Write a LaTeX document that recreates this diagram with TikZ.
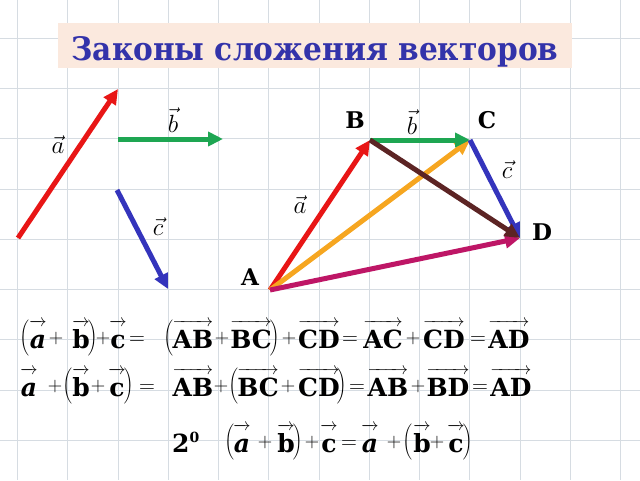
\documentclass[tikz,border=0pt]{standalone}
\usepackage{amsmath}
\usepackage{graphicx}
\usepackage{fontspec}
\usetikzlibrary{arrows.meta}
\newfontfamily\eqf{DejaVu Serif}
\definecolor{gridc}{RGB}{214,220,226}
\definecolor{titlebg}{RGB}{251,233,222}
\definecolor{titlefg}{RGB}{51,51,170}
\definecolor{vred}{RGB}{232,22,22}
\definecolor{vgreen}{RGB}{30,166,82}
\definecolor{vblue}{RGB}{52,52,188}
\definecolor{vorange}{RGB}{246,166,32}
\definecolor{vbrown}{RGB}{92,36,36}
\definecolor{vmag}{RGB}{190,22,102}
\newcommand\vv[1]{\mbox{\fontsize{17.28}{20}\selectfont$\overrightarrow{\mbox{\fontsize{25}{30}\selectfont#1\vrule height 21.5pt width 0pt}}$}}
\newcommand\va{\vv{\itshape a}}
\newcommand\lp{\raisebox{7pt}{\normalfont\fontsize{12}{14}\selectfont$\left(\vrule height 21.5pt depth 15.5pt width 0pt\right.$}}
\newcommand\rp{\raisebox{7pt}{\normalfont\fontsize{12}{14}\selectfont$\left.\vrule height 21.5pt depth 15.5pt width 0pt\right)$}}
\newcommand\pl{\raisebox{4.5pt}{\normalfont\fontsize{20}{22}\selectfont +}}
\newcommand\eqs{\raisebox{4pt}{\normalfont\fontsize{22}{24}\selectfont =}}
\begin{document}
\begin{tikzpicture}[x=1pt,y=-1pt,
  vec/.style={line width=5pt,-{Triangle[length=15pt,width=14pt]}},
  tok/.style={anchor=base,inner sep=0pt,font=\eqf\bfseries\fontsize{25}{30}\selectfont},
  ptlbl/.style={font=\eqf\bfseries\fontsize{23}{27}\selectfont,inner sep=0pt},
  veclbl/.style={font=\fontsize{24.88}{30}\selectfont,inner sep=0pt},
  gridline/.style={draw=gridc,line width=0.8pt}]
\useasboundingbox (0,0) rectangle (640,480);
\fill[white] (0,0) rectangle (640,480);
\foreach \i in {0,...,12} \draw[gridline] (17.5+50.25*\i,0) -- (17.5+50.25*\i,480);
\foreach \j in {0,...,8} \draw[gridline] (0,38+50.3*\j) -- (640,38+50.3*\j);
% title
\node[fill=titlebg,anchor=base,inner sep=0pt,minimum width=514pt,text height=37pt,text depth=8pt,text=titlefg,font=\eqf\bfseries] (title) at (315,60) {\resizebox{487pt}{24pt}{Законы сложения векторов}};
% free vectors
\coordinate (a1) at (18,238); \coordinate (a2) at (118,89);
\coordinate (b1) at (118,139); \coordinate (b2) at (223,139);
\coordinate (c1) at (117,190); \coordinate (c2) at (168,289);
\draw[vec,vred] (a1) -- (a2);
\draw[vec,vgreen] (b1) -- (b2);
\draw[vec,vblue] (c1) -- (c2);
% polygon
\coordinate (A) at (270,290); \coordinate (B) at (370,140);
\coordinate (C) at (470,140); \coordinate (D) at (520,238);
\draw[vec,vred] (A) -- (B);
\draw[vec,vorange] (A) -- (C);
\draw[vec,vmag] (A) -- (D);
\draw[vec,vgreen] (B) -- (C);
\draw[vec,vblue] (C) -- (D);
\draw[vec,vbrown] (B) -- (D);
% point labels
\node[ptlbl] (lA) at (250,277) {A};
\node[ptlbl] (lB) at (355,120) {B};
\node[ptlbl] (lC) at (487,120) {C};
\node[ptlbl] (lD) at (542,232) {D};
% vector labels
\node[veclbl] (la1) at (58,145) {$\vec a$};
\node[veclbl] (lb1) at (173,120) {$\vec b$};
\node[veclbl] (lc1) at (158,227) {$\vec c$};
\node[veclbl] (la2) at (300,205) {$\vec a$};
\node[veclbl] (lb2) at (412,122) {$\vec b$};
\node[veclbl] (lc2) at (507,170) {$\vec c$};
% equations
\foreach \x/\t [count=\i] in {25/\lp, 38/\va, 56/\pl, 81/\vv{b}, 92/\rp, 103/\pl, 118/\vv{c}, 137/\eqs, 169/\lp, 193/\vv{AB}, 222/\pl, 251/\vv{BC}, 274/\rp, 289/\pl, 319/\vv{CD}, 350/\eqs, 383/\vv{AC}, 413/\pl, 444/\vv{CD}, 478/\eqs, 509/\vv{AD}}
  \node[tok] (ra-\i) at (\x,348) {\t};
\foreach \x/\t [count=\i] in {29/\va, 55/\pl, 68/\lp, 81/\vv{b}, 98/\pl, 117/\vv{c}, 128/\rp, 147/\eqs, 193/\vv{AB}, 221/\pl, 234/\lp, 258/\vv{BC}, 288/\pl, 319/\vv{CD}, 341/\rp, 357/\eqs, 388/\vv{AB}, 418/\pl, 448/\vv{BD}, 480/\eqs, 511/\vv{AD}}
  \node[tok] (rb-\i) at (\x,396) {\t};
\node[tok,anchor=base west] (two) at (172,452) {2\raisebox{10pt}{\fontsize{14}{16}\selectfont 0}};
\foreach \x/\t [count=\i] in {230/\lp, 242/\va, 265/\pl, 286/\vv{b}, 297/\rp, 312/\pl, 329/\vv{c}, 349/\eqs, 370/\va, 394/\pl, 408/\lp, 422/\vv{b}, 437/\pl, 456/\vv{c}, 467/\rp}
  \node[tok] (rc-\i) at (\x,452) {\t};
\end{tikzpicture}
\end{document}
